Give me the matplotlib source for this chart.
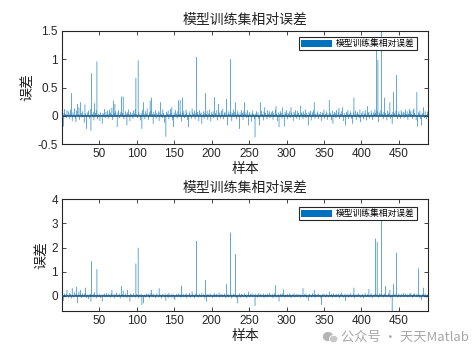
import matplotlib
matplotlib.use("Agg")
import matplotlib.pyplot as plt
import numpy as np
from matplotlib.patches import Ellipse
from matplotlib.ticker import FuncFormatter

plt.rcParams['font.family'] = ['Liberation Sans', 'Noto Sans CJK SC', 'DejaVu Sans']

title_text = '模型训练集相对误差'
legend_text = '模型训练集相对误差'
xlabel_text = '样本'
ylabel_text = '误差'
xticks = [50, 100, 150, 200, 250, 300, 350, 400, 450]
yticks_top = [-0.5, 0, 0.5, 1, 1.5]
yticks_bottom = [0, 1, 2, 3, 4]

# relative error per sample, upper panel
err_top = [
    -0.08, -0.19, 0.05, 0.12, 0.03, -0.04, 0.10, 0.02, 0.08, -0.06, 0.04, 0.11, 0.40, -0.09, 0.06, 0.02, 0.13, -0.05, -0.11, 0.09,
    0.21, 0.03, 0.15, -0.07, 0.24, 0.05, -0.03, 0.08, 0.02, -0.12, 0.20, 0.04, -0.23, 0.06, 0.01, 0.09, -0.05, 0.12, -0.26, 0.75,
    0.03, 0.07, -0.08, 0.22, 0.05, 0.10, 0.96, -0.06, 0.04, 0.02, -0.09, 0.06, 0.01, -0.14, 0.05, 0.03, 0.12, -0.04, 0.07, 0.02,
    0.09, -0.05, 0.04, 0.11, 0.06, 0.03, 0.14, -0.07, 0.27, 0.05, 0.21, 0.08, 0.02, -0.20, 0.06, 0.10, -0.04, 0.03, 0.07, 0.34,
    0.05, 0.34, -0.06, 0.02, 0.08, 0.04, -0.17, 0.06, 0.11, 0.03, -0.09, 0.07, 0.02, 0.05, -0.05, 0.09, 0.04, 0.12, 0.67, 0.03,
    -0.04, 0.98, 0.06, 0.02, -0.08, 0.05, -0.23, 0.10, 0.24, 0.03, -0.06, 0.08, 0.04, 0.13, 0.02, -0.07, 0.06, 0.27, 0.09, 0.32,
    0.04, -0.14, 0.07, 0.03, 0.10, -0.05, 0.05, 0.02, 0.08, -0.09, 0.06, 0.24, 0.03, -0.04, 0.11, 0.05, -0.12, 0.02, -0.37, 0.07,
    0.04, 0.09, -0.06, 0.03, 0.12, 0.05, 0.15, -0.08, -0.20, 0.06, 0.02, 0.10, 0.04, -0.05, 0.08, 0.27, 0.03, 0.28, 0.06, -0.10,
    0.32, 0.05, 0.09, -0.04, 0.03, 0.11, 0.06, -0.07, -0.20, 0.04, 0.08, 0.02, -0.05, 0.13, 0.06, 0.03, 0.09, -0.06, 0.05, 1.04,
    0.07, 0.03, -0.09, 0.10, 0.04, 0.06, -0.14, 0.02, 0.08, -0.05, 0.05, 0.40, 0.03, 0.09, -0.07, 0.04, 0.11, 0.02, -0.10, 0.06,
    0.03, 0.08, -0.04, 0.33, 0.05, 0.02, 0.10, -0.08, 0.21, 0.04, 0.06, -0.05, 0.09, 0.03, 0.12, -0.06, 0.05, 0.07, 0.02, 0.30,
    -0.17, 0.04, 0.08, 0.03, 1.00, 0.06, -0.09, 0.05, 0.11, 0.02, 0.07, 0.24, -0.06, 0.04, 0.09, 0.03, -0.23, 0.06, 0.02, 0.10,
    0.05, -0.07, 0.08, 0.24, 0.03, 0.06, -0.04, 0.10, -0.17, 0.04, 0.07, 0.02, -0.10, 0.05, 0.09, 0.03, -0.06, -0.38, 0.04, 0.08,
    0.02, 0.06, -0.05, -0.17, 0.24, 0.04, 0.09, 0.03, -0.08, 0.07, 0.15, 0.05, 0.02, -0.06, 0.10, 0.04, 0.08, -0.04, 0.03, 0.06,
    0.09, -0.07, 0.05, 0.02, 0.11, 0.17, 0.04, -0.09, 0.06, -0.20, 0.03, 0.08, 0.05, -0.05, 0.15, 0.02, -0.19, 0.07, 0.04, 0.10,
    -0.06, 0.05, 0.03, 0.08, -0.04, 0.15, 0.06, 0.02, -0.09, 0.07, 0.04, 0.10, -0.05, 0.03, 0.09, 0.05, -0.07, 0.02, 0.18, 0.06,
    0.04, -0.06, 0.08, 0.03, 0.11, -0.04, 0.05, 0.02, -0.17, 0.07, 0.04, 0.09, -0.08, 0.03, 0.06, 0.10, 0.24, -0.05, 0.04, 0.02,
    0.08, 0.05, -0.06, 0.03, 0.07, 0.02, -0.09, 0.06, 0.04, 0.11, -0.05, 0.03, 0.08, 0.05, -0.07, 0.02, 0.28, 0.06, 0.04, -0.08,
    0.09, -0.14, 0.03, 0.07, 0.05, -0.04, 0.10, 0.02, 0.06, 0.14, -0.06, 0.04, 0.08, 0.03, 0.15, -0.09, 0.05, 0.02, -0.17, 0.07,
    0.04, 0.10, -0.06, 0.03, 0.08, 0.05, -0.05, -0.14, 0.06, 0.32, 0.02, 0.09, -0.07, 0.04, 0.07, 0.03, -0.04, 0.11, -0.11, 0.05,
    0.02, 0.08, -0.06, 0.04, 0.10, 0.03, -0.08, 0.17, 0.05, 0.07, -0.05, 0.02, 0.09, 0.04, -0.07, 0.06, 0.03, 0.11, 0.05, 1.16,
    0.08, 0.99, -0.11, 0.06, 0.03, 0.10, 1.60, 0.04, -0.06, 0.07, 0.32, 0.05, 0.02, -0.08, 0.09, 0.04, 0.06, 0.24, -0.05, 0.03,
    -0.14, 0.07, 0.42, 0.05, 0.02, 0.09, 0.72, -0.06, 0.04, 0.08, 0.03, -0.05, 0.10, 0.06, 0.02, 0.07, -0.04, 0.05, 0.11, 0.03,
    0.08, -0.07, 0.04, 0.12, 0.06, 0.09, 0.03, -0.05, 0.10, 0.13, 0.05, 0.02, -0.08, 0.42, -0.19, 0.06, 0.04, 0.09, -0.06, -0.17,
    0.05, 0.03, 0.15, -0.04, 0.08, 0.02, -0.06, 0.07, 0.04,
]

# relative error per sample, lower panel
err_bottom = [
    0.06, -0.20, 0.03, 0.10, -0.05, 0.08, 0.25, 0.02, -0.07, 0.12, 0.04, 0.09, -0.10, 0.32, 0.05, -0.06, 0.15, 0.03, 0.08, 0.38,
    -0.30, 0.07, 0.18, 0.04, 0.25, -0.08, 0.05, 0.10, -0.04, 0.06, 0.12, 0.34, -0.09, 0.03, 0.07, -0.12, 0.05, 0.09, -0.23, 1.44,
    0.04, 0.08, -0.06, 0.15, 0.03, -0.10, 1.11, 0.06, -0.05, 0.09, 0.02, -0.08, 0.05, -0.23, 0.07, 0.03, 0.10, -0.06, 0.04, 0.12,
    -0.04, 0.06, 0.09, 0.03, -0.07, 0.11, 0.25, 0.05, 0.02, -0.09, 0.08, 0.04, 0.13, -0.05, 0.06, 0.03, 0.09, -0.11, 0.05, 0.41,
    0.07, 0.22, -0.06, 0.04, 0.10, 0.03, -0.08, 0.25, 0.05, 0.02, -0.23, 0.09, 0.06, -0.05, 0.04, 0.11, 0.03, -0.07, 1.34, 0.08,
    0.05, 1.99, -0.10, 0.06, 0.03, 0.09, -0.37, 0.04, -0.30, 0.07, 0.02, -0.06, 0.10, 0.05, 0.03, 0.08, -0.09, 0.12, 0.04, 0.25,
    0.06, -0.05, 0.09, 0.03, -0.08, 0.05, 0.11, 0.02, -0.06, 0.32, 0.07, 0.04, -0.10, 0.08, 0.03, 0.06, -0.05, 0.10, -0.20, 0.04,
    0.07, -0.08, 0.12, 0.05, 0.02, -0.06, 0.09, 0.04, 0.06, -0.11, -0.16, 0.03, 0.08, 0.05, -0.04, 0.10, 0.02, 0.07, -0.07, 0.42,
    0.04, 0.09, -0.05, 0.03, 0.06, 0.11, -0.09, 0.05, 0.02, 0.08, 0.13, -0.06, 0.04, 0.18, 0.07, 0.03, -0.08, 0.10, 0.05, 2.27,
    0.06, -0.07, 0.03, 0.09, 0.04, -0.05, 0.12, 0.02, 0.07, 0.05, -0.10, 0.66, -0.23, 0.08, 0.03, 0.06, -0.04, 0.10, 0.05, 0.02,
    -0.08, 0.07, 0.04, 0.11, 0.03, -0.06, 0.09, 0.05, 0.02, 0.14, -0.07, 0.06, 0.03, 0.08, -0.05, 0.04, 0.10, 0.02, -0.09, 0.49,
    0.05, 0.08, -0.06, 0.03, 2.62, 0.07, -0.10, 0.04, 0.09, 0.02, 0.06, 1.73, -0.08, 0.05, -0.30, 0.03, 0.11, 0.04, -0.07, 0.08,
    0.06, 0.02, -0.05, 0.10, 0.04, 0.07, -0.09, 0.03, 0.18, 0.05, -0.06, 0.08, 0.02, 0.11, -0.04, 0.06, 0.03, -0.41, 0.09, 0.04,
    -0.07, 0.05, 0.12, 0.03, 0.08, -0.05, 0.06, 0.02, 0.10, -0.08, 0.04, 0.07, 0.03, -0.06, 0.09, 0.05, 0.13, -0.04, 0.06, 0.02,
    0.08, -0.09, 0.04, 0.11, 0.45, 0.05, -0.06, 0.03, 0.07, -0.23, 0.02, 0.09, 0.05, -0.04, 0.10, 0.27, 0.03, -0.07, 0.06, 0.04,
    0.08, -0.05, 0.03, 0.10, 0.06, -0.08, 0.02, 0.07, 0.04, 0.11, -0.06, 0.05, 0.03, 0.09, -0.04, 0.06, 0.02, 0.08, -0.07, 0.05,
    0.03, 0.32, -0.05, 0.07, 0.04, 0.10, -0.08, 0.02, -0.20, 0.06, 0.09, 0.03, -0.06, 0.05, 0.11, 0.04, 0.25, -0.07, 0.08, 0.02,
    0.06, -0.04, 0.09, 0.03, 0.05, -0.08, -0.37, 0.07, 0.02, 0.10, 0.04, -0.06, 0.08, 0.03, 0.05, -0.05, 0.18, 0.06, 0.02, 0.09,
    -0.07, 0.04, 0.11, 0.03, 0.06, -0.05, 0.08, 0.02, 0.10, 0.05, -0.09, 0.07, 0.14, 0.03, 0.06, -0.06, 0.04, 0.09, -0.20, 0.05,
    0.02, 0.08, -0.07, 0.04, 0.11, 0.06, -0.05, 0.03, 0.09, 0.34, -0.08, 0.05, 0.02, 0.07, -0.04, 0.10, 0.04, 0.06, -0.06, 0.03,
    0.08, 0.05, -0.09, 0.04, 0.12, 0.02, -0.05, 0.07, 0.03, 0.29, -0.06, 0.06, 0.10, 0.04, -0.08, 0.05, 0.02, 0.09, 2.37, 0.06,
    2.23, 0.04, -0.07, 0.10, 0.03, 0.08, 3.15, 0.05, -0.06, 0.07, 0.09, 0.41, 0.04, -0.05, 0.02, 0.11, 0.06, 0.25, -0.08, 0.03,
    -0.65, 0.07, 0.49, 0.05, 0.02, 0.09, 1.79, -0.06, 0.04, 0.10, 0.03, -0.05, 0.08, 0.06, 0.02, 0.12, -0.04, 0.05, 0.09, 0.03,
    0.07, -0.06, 0.04, 0.10, 0.05, 0.13, 0.03, -0.07, 0.08, 0.06, 0.11, 0.02, -0.05, 0.09, 0.04, 1.14, 0.06, -0.08, 0.03, -0.16,
    0.05, 0.08, 0.34, -0.05, 0.10, 0.03, -0.07, 0.06, 0.04,
]

BAR_BLUE = '#0072BD'
AX_GRAY = '#262626'
CJK = ['Noto Sans CJK SC', 'DejaVu Sans']


def num_fmt(v, pos):
    return '%g' % v


def errPanel(ax, vals, ylim, yticks, leg_top):
    x = np.arange(1, len(vals) + 1)
    # thin bars: no pixel snapping, otherwise sub-pixel bars vanish
    ax.bar(x, vals, width=0.8, color=BAR_BLUE, linewidth=0, label=legend_text,
           snap=False)
    ax.axhline(0, color='#1d4f78', linewidth=1.1, zorder=3)

    ax.set_xlim(0.5, 489.5)
    ax.set_ylim(*ylim)
    ax.set_xticks(xticks)
    ax.set_yticks(yticks)
    ax.yaxis.set_major_formatter(FuncFormatter(num_fmt))
    ax.tick_params(direction='in', length=3, width=0.6, color=AX_GRAY,
                   labelsize=8.5, labelcolor=AX_GRAY,
                   top=True, right=True, pad=3)
    for sp in ax.spines.values():
        sp.set_color(AX_GRAY)
        sp.set_linewidth(0.8)

    ax.set_title(title_text, family=CJK, fontsize=10, color='#222222', pad=5)
    ax.set_xlabel(xlabel_text, family=CJK, fontsize=10, color='#222222', labelpad=1)
    ax.set_ylabel(ylabel_text, family=CJK, fontsize=10, color='#222222', labelpad=2)

    leg = ax.legend(loc='upper right', bbox_to_anchor=(0.968, leg_top),
                    borderaxespad=0, fancybox=False, framealpha=1,
                    prop={'family': CJK, 'size': 6.3},
                    handlelength=3.6, handleheight=0.9, handletextpad=0.4,
                    borderpad=0.25)
    leg.get_frame().set_edgecolor(AX_GRAY)
    leg.get_frame().set_linewidth(0.8)


fig = plt.figure(figsize=(4.74, 3.55), dpi=100)
fig.patch.set_facecolor('white')

ax1 = fig.add_axes([0.131, 0.594, 0.773, 0.319])
ax2 = fig.add_axes([0.131, 0.124, 0.773, 0.315])

errPanel(ax1, err_top, (-0.5, 1.5), yticks_top, 0.945)
errPanel(ax2, err_bottom, (-0.62, 4), yticks_bottom, 0.93)

# watermark
fig.patches.append(Ellipse((0.692, 0.052), 0.022, 0.026, transform=fig.transFigure,
                           facecolor='#b5b5b5', edgecolor='none'))
fig.patches.append(Ellipse((0.704, 0.045), 0.018, 0.021, transform=fig.transFigure,
                           facecolor='#c8c8c8', edgecolor='white', linewidth=0.6))
fig.text(0.72, 0.05, '公众号 · 天天Matlab', family=['Noto Sans CJK SC', 'DejaVu Sans'],
         fontsize=9.5, color='#a8a8a8', va='center', ha='left')

fig.savefig('out.png', dpi=100)
